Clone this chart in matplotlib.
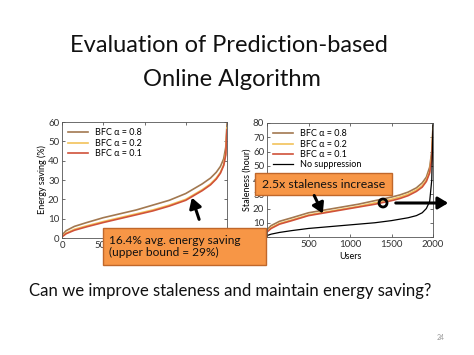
import matplotlib
matplotlib.use("Agg")
import matplotlib.pyplot as plt
from matplotlib.patches import FancyBboxPatch, FancyArrowPatch, Ellipse

plt.rcParams['font.family'] = ['Lato', 'DejaVu Sans']

# ---- data ----
users = [0, 50, 150, 300, 500, 700, 900, 1100, 1300, 1500, 1600, 1700, 1800, 1870, 1920, 1960, 1985, 2000]
energy_08 = [1.5, 3.8, 6, 8, 10.5, 12.5, 14.5, 17, 19.5, 23, 25.5, 28, 31, 34, 37, 41, 47, 59]
energy_02 = [0.8, 2.5, 4.5, 6.3, 8.5, 10.5, 12.5, 14.5, 17, 20, 22.5, 25, 28, 31, 34, 38, 44, 57]
energy_01 = [0.6, 2.2, 4.0, 5.8, 8, 10, 12, 14, 16.5, 19.5, 22, 24.5, 27.5, 30.5, 33.5, 37.5, 43, 56]
stale_08 = [5, 8, 11, 13.5, 17, 19, 21, 23, 25.5, 28, 29.5, 31.5, 34.5, 38, 42, 49, 60, 78]
stale_02 = [4, 6.5, 9.5, 12, 15.5, 17.5, 19.5, 21.5, 24, 26.5, 28, 30, 33, 36, 40, 46, 57, 76]
stale_01 = [3.5, 6, 9, 11.5, 15, 17, 19, 21, 23, 25.5, 27, 29, 32, 35, 39, 45, 55, 74]
stale_none = [1, 2, 3.2, 4.5, 6, 7, 8, 9, 10, 11.5, 12.5, 13.5, 15, 17, 20, 25, 40, 80]
series_labels = ["BFC \u03b1 = 0.8", "BFC \u03b1 = 0.2", "BFC \u03b1 = 0.1", "No suppression"]
x_ticks = [0, 500, 1000, 1500, 2000]
energy_ticks = [0, 10, 20, 30, 40, 50, 60]
stale_ticks = [0, 10, 20, 30, 40, 50, 60, 70, 80]

colors = ["#a27850", "#f2c25a", "#d0523a", "#000000"]

W, H = 474, 355
fig = plt.figure(figsize=(W / 100, H / 100), dpi=100)
fig.patch.set_facecolor("white")


def fx(px):
    return px / W


def fy(py):
    return 1 - py / H


def style_axes(ax):
    ax.tick_params(direction="in", length=2.5, width=0.5, labelsize=7, pad=2,
                   top=True, right=True, colors="#333333")
    for s in ax.spines.values():
        s.set_linewidth(0.6)
        s.set_color("#555555")


# left axes
ax1 = fig.add_axes([fx(62), fy(238), fx(227 - 62), (238 - 122) / H])
ax1.plot(users, energy_08, color=colors[0], lw=1.2, label=series_labels[0])
ax1.plot(users, energy_02, color=colors[1], lw=1.2, label=series_labels[1])
ax1.plot(users, energy_01, color=colors[2], lw=1.2, label=series_labels[2])
ax1.set_xlim(0, 2000)
ax1.set_ylim(0, 60)
ax1.set_xticks(x_ticks)
ax1.set_yticks(energy_ticks)
ax1.set_ylabel("Energy saving (%)", fontsize=6.5, labelpad=1)
style_axes(ax1)
ax1.legend(loc="upper left", frameon=False, fontsize=6.5, handlelength=2.2,
           handletextpad=0.8, labelspacing=0.15, borderaxespad=0.3)
# tick labels lying fully under the call-out box are not visible in the slide
for lbl in ax1.get_xticklabels()[2:]:
    lbl.set_visible(False)

# right axes
ax2 = fig.add_axes([fx(267), fy(237), fx(433 - 267), (237 - 123) / H])
ax2.plot(users, stale_08, color=colors[0], lw=1.2, label=series_labels[0])
ax2.plot(users, stale_02, color=colors[1], lw=1.2, label=series_labels[1])
ax2.plot(users, stale_01, color=colors[2], lw=1.2, label=series_labels[2])
ax2.plot(users, stale_none, color=colors[3], lw=0.9, label=series_labels[3])
ax2.set_xlim(0, 2000)
ax2.set_ylim(0, 80)
ax2.set_xticks(x_ticks)
ax2.set_yticks(stale_ticks)
ax2.set_ylabel("Staleness (hour)", fontsize=6.5, labelpad=1)
ax2.set_xlabel("Users", fontsize=6.5, labelpad=2)
style_axes(ax2)
ax2.legend(loc="upper left", frameon=False, fontsize=6.5, handlelength=2.2,
           handletextpad=0.8, labelspacing=0.15, borderaxespad=0.3)
ax2.get_yticklabels()[0].set_visible(False)
ax2.get_xticklabels()[0].set_visible(False)

# titles / slide text
fig.text(fx(229), fy(46), "Evaluation of Prediction-based", ha="center", va="center",
         fontsize=17, color="#111111")
fig.text(fx(232), fy(79), "Online Algorithm", ha="center", va="center",
         fontsize=17, color="#111111")
fig.text(fx(230), fy(291), "Can we improve staleness and maintain energy saving?",
         ha="center", va="center", fontsize=12.1, color="#111111")
fig.text(fx(441), fy(338), "24", ha="center", va="center", fontsize=5, color="#999999")

# orange call-out boxes
box_face = "#f79646"
box_edge = "#c0672a"
b1 = FancyBboxPatch((fx(103), fy(265)), fx(266 - 103), (265 - 228) / H,
                    boxstyle="square,pad=0", transform=fig.transFigure,
                    facecolor=box_face, edgecolor=box_edge, lw=1.0, zorder=5)
fig.patches.append(b1)
fig.text(fx(109), fy(246.5), "16.4% avg. energy saving\n(upper bound = 29%)",
         ha="left", va="center", fontsize=8.6, linespacing=1.2, color="#111111", zorder=6)

b2 = FancyBboxPatch((fx(255), fy(195)), fx(392 - 255), (195 - 173) / H,
                    boxstyle="square,pad=0", transform=fig.transFigure,
                    facecolor=box_face, edgecolor=box_edge, lw=1.0, zorder=5)
fig.patches.append(b2)
fig.text(fx(323.5), fy(184), "2.5x staleness increase", ha="center", va="center",
         fontsize=8.8, color="#111111", zorder=6)

# arrows
arrow_kw = dict(arrowstyle="-|>,head_length=0.5,head_width=0.3", color="black", lw=2.2)
fig.add_artist(FancyArrowPatch((fx(200), fy(222)), (fx(191), fy(195)),
               transform=fig.transFigure, mutation_scale=12, zorder=7, **arrow_kw))
fig.add_artist(FancyArrowPatch((fx(313), fy(193)), (fx(324), fy(216)),
               transform=fig.transFigure, mutation_scale=12, zorder=7, **arrow_kw))
fig.add_artist(FancyArrowPatch((fx(393), fy(203)), (fx(451), fy(203)),
               transform=fig.transFigure, mutation_scale=12, zorder=7, **arrow_kw))
circ = Ellipse((fx(383), fy(203)), 8 / W, 8 / H, transform=fig.transFigure,
               facecolor="none", edgecolor="black", lw=2, zorder=7)
fig.add_artist(circ)

fig.savefig("out.png", dpi=100, facecolor="white")
